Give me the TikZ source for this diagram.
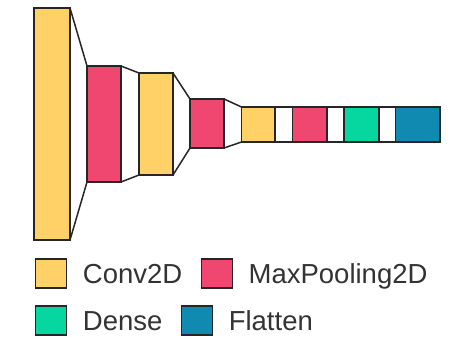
\documentclass[tikz,border=0pt]{standalone}
\usepackage{fontspec}
\setmainfont{Liberation Sans}
\usetikzlibrary{positioning}

\definecolor{convcol}{HTML}{FFD166}
\definecolor{poolcol}{HTML}{EF476F}
\definecolor{densecol}{HTML}{06D6A0}
\definecolor{flatcol}{HTML}{118AB2}

\begin{document}
\begin{tikzpicture}[
      x=1pt, y=-1pt,
      layer/.style={draw=black!85, line width=1.5pt, anchor=north west, inner sep=0pt, outer sep=0pt},
      funnel/.style={draw=black!85, line width=1.5pt, line cap=round},
      key/.style={draw=black!85, line width=1.5pt, minimum width=31pt, minimum height=29pt, inner sep=0pt, outer sep=0pt},
      keytext/.style={font=\fontsize{27.5}{30}\selectfont, text=black!80, inner sep=0pt, text height=20pt, text depth=0pt},
    ]
    \useasboundingbox (0,0) rectangle (474,362);
    % layers
    \node[layer, fill=convcol, minimum width=36pt, minimum height=232pt] (c1) at (34,8) {};
    \node[layer, fill=poolcol, minimum width=34pt, minimum height=116pt] (p1) at (87,66) {};
    \node[layer, fill=convcol, minimum width=34pt, minimum height=102pt] (c2) at (139,73) {};
    \node[layer, fill=poolcol, minimum width=34pt, minimum height=49pt] (p2) at (190,99) {};
    \node[layer, fill=convcol, minimum width=33.5pt, minimum height=35pt] (c3) at (241.5,107) {};
    \node[layer, fill=poolcol, minimum width=34.5pt, minimum height=35pt] (p3) at (292.5,107) {};
    \node[layer, fill=densecol, minimum width=35pt, minimum height=35pt] (d1) at (344,107) {};
    \node[layer, fill=flatcol, minimum width=44.5pt, minimum height=35pt] (f1) at (395.5,107) {};
    % funnels
    \foreach \a/\b in {c1/p1,p1/c2,c2/p2,p2/c3,c3/p3,p3/d1,d1/f1}
        \draw[funnel] (\a.north east) -- (\b.north west) (\a.south east) -- (\b.south west);
    % legend
    \node[key, fill=convcol] (kconv) at (51.2,273.5) {};
    \node[keytext, right=16pt of kconv] (tconv) {Conv2D};
    \node[key, fill=poolcol, right=19pt of tconv] (kpool) {};
    \node[keytext, right=16pt of kpool] (tpool) {MaxPooling2D};
    \node[key, fill=densecol, below=18pt of kconv] (kdense) {};
    \node[keytext, right=16pt of kdense] (tdense) {Dense};
    \node[key, fill=flatcol, right=19pt of tdense] (kflat) {};
    \node[keytext, right=16pt of kflat] (tflat) {Flatten};
\end{tikzpicture}
\end{document}
